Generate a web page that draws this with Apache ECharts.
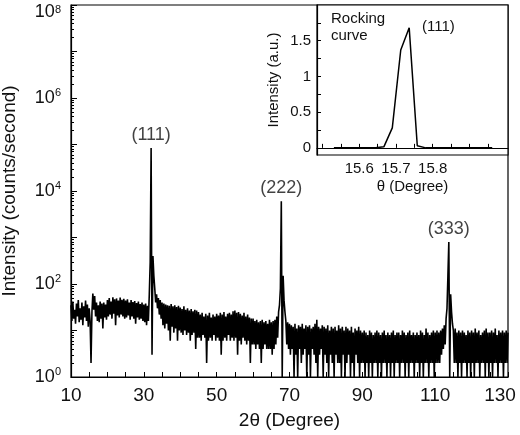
<!DOCTYPE html>
<html>
<head>
<meta charset="utf-8">
<script src="https://cdn.jsdelivr.net/npm/echarts@6/dist/echarts.min.js"></script>
<style>html,body{margin:0;padding:0;background:#fff}#c{width:520px;height:435px}</style>
</head>
<body>
<div id="c"></div>
<script>
// XRD scan: 2theta grid start/step, counts
const scanStart = 10, scanStep = 0.25;
const counts = [
35,16,42,18,28,14,38,20,45,15,30,17,40,13,33,19,44,16,36,12,
30,16,2,25,62,28,55,20,40,16,35,15,42,18,38,11,40,19,36,17,
45,20,50,22,42,18,52,23,47,13,49,21,44,19,51,22,46,20,48,18,
44,19,47,21,40,17,45,20,41,18,43,14,39,19,42,17,37,18,40,16,
36,15,38,13,34,16,60,300,84000,3,400,150,80,40,60,30,50,22,45,18,
40,13,38,11,36,14,35,10,34,6,37,12,33,9,35,11,32,6,34,10,
31,9,29,8,33,10,28,8,30,9,27,6,29,8,26,9,28,4,27,7,
25,7,22,6,24,8,20,7,23,2,21,6,24,7,19,6,22,8,20,6,
23,7,21,6,24,3,22,6,25,7,20,6,23,8,24,6,22,7,26,6,
27,7,24,3,25,6,23,5,21,7,24,6,20,5,22,6,19,2,18,5,
18,5,16,4,17,5,15,4,16,2,17,4,15,5,16,4,14,4,17,4,
15,3,16,4,17,5,20,7,25,35,80,6000,1,150,45,25,16,5,15,4,
14,3,13,4,12,1,14,3,11,1,13,4,12,2,14,3,11,4,13,1,
12,3,13,1,11,4,12,3,14,2,17,1,12,3,11,4,13,1,12,3,
11,2,13,1,10,3,12,2,11,1,12,3,10,2,13,2,11,1,12,3,
10,1,12,2,11,3,10,1,12,2,9,1,11,3,10,2,12,1,10,2,
9,2,10,1,9,2,8,1,10,2,9,1,8,2,9,2,10,1,9,2,
8,1,9,2,10,2,8,1,9,2,8,1,9,2,10,1,8,2,9,2,
9,1,8,2,10,2,9,1,8,2,9,1,10,2,8,2,9,1,8,2,
9,2,8,1,10,2,9,1,8,2,11,2,9,1,8,2,9,2,10,1,
9,2,10,2,9,2,10,3,11,4,13,5,18,30,150,800,1,60,25,14,
10,2,11,2,9,1,10,2,9,1,10,2,9,2,8,1,10,2,9,1,
10,2,9,1,11,2,9,2,10,1,8,2,9,2,10,1,11,2,9,1,
9,2,10,1,9,2,11,2,8,1,10,2,9,2,10,1,9,2,10,2,
9
];
const peakLabels = ['(111)', '(222)', '(333)'];
const peakX = [32, 67.75, 113.75];
const peakY = [84000, 6000, 800];
const xTickLabels = [10, 30, 50, 70, 90, 110, 130];

// Rocking curve inset
const rockTheta = [15.531,15.554,15.576,15.599,15.622,15.644,15.667,15.690,15.713,15.736,15.758,15.781,15.804,15.826,15.849,15.872,15.894,15.917,15.940,15.962];
const rockInt = [0,0,0,0,0,0,0.014,0.28,1.37,1.68,0.03,0,0,0,0,0,0,0,0,0];
const rockXLabels = [15.6, 15.7, 15.8];
const rockYLabels = [0, 0.5, 1, 1.5];

const FONT = '"Liberation Sans", Arial, sans-serif';
const scan = counts.map((c, i) => [scanStart + i * scanStep, c]);
const minorY = [];
for (let e = 0; e < 8; e++) for (let m = 2; m <= 9; m++) minorY.push(m * Math.pow(10, e));
const rockXTicks = [];
for (let k = 0; k <= 9; k++) rockXTicks.push(+(15.5 + 0.05 * k).toFixed(2));
const rockYTicks = [0, 0.25, 0.5, 0.75, 1, 1.25, 1.5, 1.75];

const black = '#000';
const axisLineStyle = { lineStyle: { color: black, width: 1.2 } };

const chart = echarts.init(document.getElementById('c'), null, { renderer: 'canvas' });
chart.setOption({
  animation: false,
  backgroundColor: '#fff',
  textStyle: { fontFamily: FONT, color: '#111' },
  grid: [
    { left: 71, right: 12, top: 5, bottom: 58, show: true, borderColor: black, borderWidth: 1.2, backgroundColor: 'transparent', outerBoundsMode: 'none', containLabel: false },
    { left: 317, right: 12, top: 5, height: 150, show: true, borderColor: black, borderWidth: 1.2, backgroundColor: '#fff', outerBoundsMode: 'none', containLabel: false }
  ],
  xAxis: [
    {
      gridIndex: 0, type: 'value', min: 10, max: 130, interval: 5,
      axisLine: axisLineStyle,
      axisTick: { inside: true, length: 5, lineStyle: { color: black, width: 1 } },
      axisLabel: {
        customValues: xTickLabels, margin: 9,
        formatter: v => v === 130 ? '{r|130}' : '{n|' + v + '}',
        rich: {
          n: { fontSize: 19, color: '#111', fontFamily: FONT },
          r: { fontSize: 19, color: '#111', fontFamily: FONT, padding: [0, 16, 0, 0] }
        }
      },
      splitLine: { show: false },
      name: '2θ (Degree)', nameLocation: 'middle', nameGap: 34,
      nameTextStyle: { fontSize: 19, color: '#111', fontFamily: FONT }
    },
    {
      gridIndex: 1, type: 'value', min: 15.485, max: 16.005,
      axisLine: axisLineStyle,
      axisTick: { customValues: rockXTicks, inside: true, length: 4, lineStyle: { color: black, width: 1 } },
      axisLabel: { customValues: rockXLabels, formatter: v => v.toFixed(1), fontSize: 15, color: '#111', margin: 6, fontFamily: FONT },
      splitLine: { show: false },
      name: 'θ (Degree)', nameLocation: 'middle', nameGap: 24,
      nameTextStyle: { fontSize: 15, color: '#111', fontFamily: FONT }
    }
  ],
  yAxis: [
    {
      gridIndex: 0, type: 'log', logBase: 10, min: 1, max: 1e8, interval: 1, position: 'left',
      axisLine: axisLineStyle,
      axisTick: { inside: true, length: 6, lineStyle: { color: black, width: 1 } },
      axisLabel: {
        margin: 10,
        verticalAlignMaxLabel: 'top',
        formatter: v => {
          const e = Math.round(Math.log10(v));
          if (e % 2) return '';
          return e === 8 ? '{bt|10}{st|8}' : '{b|10}{s|' + e + '}';
        },
        rich: {
          b: { fontSize: 18, lineHeight: 18, verticalAlign: 'bottom', color: '#111', fontFamily: FONT },
          s: { fontSize: 11, lineHeight: 11, verticalAlign: 'bottom', padding: [0, 0, 9, 0], color: '#111', fontFamily: FONT },
          bt: { fontSize: 18, lineHeight: 16, verticalAlign: 'bottom', color: '#111', fontFamily: FONT },
          st: { fontSize: 11, lineHeight: 11, verticalAlign: 'bottom', padding: [0, 0, 6, 0], color: '#111', fontFamily: FONT }
        }
      },
      splitLine: { show: false },
      name: 'Intensity (counts/second)', nameLocation: 'middle', nameGap: 52,
      nameTextStyle: { fontSize: 19, color: '#111', fontFamily: FONT }
    },
    {
      gridIndex: 0, type: 'log', logBase: 10, min: 1, max: 1e8, position: 'left', offset: 0,
      axisLine: { show: false },
      axisTick: { customValues: minorY, inside: true, length: 3, lineStyle: { color: black, width: 1 } },
      axisLabel: { show: false },
      splitLine: { show: false }
    },
    {
      gridIndex: 1, type: 'value', min: -0.1, max: 2,
      axisLine: axisLineStyle,
      axisTick: { customValues: rockYTicks, inside: true, length: 4, lineStyle: { color: black, width: 1 } },
      axisLabel: { customValues: rockYLabels, fontSize: 15, color: '#111', margin: 6, fontFamily: FONT },
      splitLine: { show: false },
      name: 'Intensity (a.u.)', nameLocation: 'middle', nameGap: 36,
      nameTextStyle: { fontSize: 15, color: '#111', fontFamily: FONT }
    }
  ],
  series: [
    {
      type: 'line', xAxisIndex: 0, yAxisIndex: 0, data: scan,
      showSymbol: false, symbol: 'none', silent: true,
      lineStyle: { color: black, width: 1.6 }
    },
    {
      type: 'scatter', xAxisIndex: 0, yAxisIndex: 0, symbolSize: 0,
      data: peakX.map((x, i) => ({ value: [x, peakY[i]], name: peakLabels[i] })),
      label: { show: true, position: 'top', distance: 4, formatter: '{b}', fontSize: 18, color: '#111', fontFamily: FONT }
    },
    {
      type: 'line', xAxisIndex: 1, yAxisIndex: 2,
      data: rockTheta.map((t, i) => [t, rockInt[i]]),
      showSymbol: false, symbol: 'none', silent: true,
      lineStyle: { color: black, width: 1.5 }
    }
  ],
  graphic: [
    { type: 'text', left: 331, top: 10, style: { text: 'Rocking\ncurve', font: '15px ' + FONT, fill: '#111', lineHeight: 17 } },
    { type: 'text', left: 422, top: 19, style: { text: '(111)', font: '15px ' + FONT, fill: '#111' } }
  ]
});
</script>
</body>
</html>
